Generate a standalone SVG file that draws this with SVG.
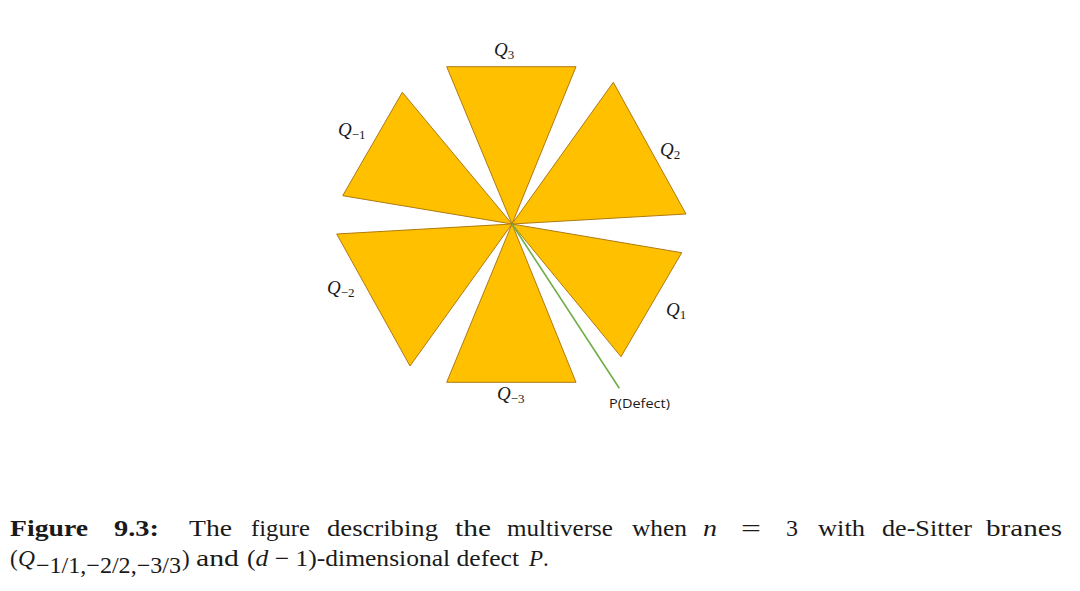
<svg xmlns="http://www.w3.org/2000/svg" width="1080" height="591" viewBox="0 0 1080 591">
<style>
.wedge{fill:#FFC000;stroke:#B07A10;stroke-width:1;stroke-linejoin:miter}
.ql{font-family:"Liberation Serif",serif;font-style:italic;font-size:19px;fill:#1a1a1a}
.sub{font-family:"Liberation Serif",serif;font-style:normal;font-size:13px}
.cap{font-family:"Liberation Serif",serif;font-size:23px;fill:#1a1a1a}
.b{font-weight:bold}
.i{font-style:italic}
</style>
<rect width="1080" height="591" fill="#fff"/>
<g id="wedges">
<g id="Q3"><polygon class="wedge" points="512,224 446.7,66.7 576,66.7"/></g>
<g id="Q-1"><polygon class="wedge" points="512,224 402.3,92.3 342.7,195.7"/></g>
<g id="Q2"><polygon class="wedge" points="512,224 613.3,82.3 686,214"/></g>
<g id="Q-2"><polygon class="wedge" points="512,224 336.7,234 410,366"/></g>
<g id="Q-3"><polygon class="wedge" points="512,224 446.7,382.3 576,382.3"/></g>
<g id="Q1"><polygon class="wedge" points="512,224 681.7,252.7 621,356.7"/></g>
</g>
<g id="connectors">
<line x1="512" y1="224" x2="619.3" y2="388.3" stroke="#70AD47" stroke-width="1.6"/>
</g>
<g id="labels">
<text class="ql" x="494" y="56">Q<tspan class="sub" dy="3">3</tspan></text>
<text class="ql" x="338" y="136">Q<tspan class="sub" dy="3">−1</tspan></text>
<text class="ql" x="660" y="156">Q<tspan class="sub" dy="3">2</tspan></text>
<text class="ql" x="327" y="294">Q<tspan class="sub" dy="3">−2</tspan></text>
<text class="ql" x="666" y="316">Q<tspan class="sub" dy="3">1</tspan></text>
<text class="ql" x="497" y="400">Q<tspan class="sub" dy="3">−3</tspan></text>
<text x="609" y="408" font-family="'Open Sans','Liberation Sans',sans-serif" font-size="13.5px" fill="#1a1a1a" textLength="61" lengthAdjust="spacingAndGlyphs">P(Defect)</text>
</g>
<g id="caption">
<text class="cap b" x="10" y="536" textLength="78" lengthAdjust="spacingAndGlyphs">Figure</text>
<text class="cap b" x="114" y="536" textLength="45" lengthAdjust="spacingAndGlyphs">9.3:</text>
<text class="cap" x="189" y="536" textLength="43" lengthAdjust="spacingAndGlyphs">The</text>
<text class="cap" x="251" y="536" textLength="59" lengthAdjust="spacingAndGlyphs">figure</text>
<text class="cap" x="327" y="536" textLength="111" lengthAdjust="spacingAndGlyphs">describing</text>
<text class="cap" x="455" y="536" textLength="36" lengthAdjust="spacingAndGlyphs">the</text>
<text class="cap" x="507" y="536" textLength="106" lengthAdjust="spacingAndGlyphs">multiverse</text>
<text class="cap" x="632" y="536" textLength="55" lengthAdjust="spacingAndGlyphs">when</text>
<text class="cap i" x="703" y="536" textLength="14" lengthAdjust="spacingAndGlyphs">n</text>
<text class="cap" x="741" y="536" textLength="20" lengthAdjust="spacingAndGlyphs">=</text>
<text class="cap" x="786" y="536" textLength="12" lengthAdjust="spacingAndGlyphs">3</text>
<text class="cap" x="818" y="536" textLength="47" lengthAdjust="spacingAndGlyphs">with</text>
<text class="cap" x="882" y="536" textLength="90" lengthAdjust="spacingAndGlyphs">de-Sitter</text>
<text class="cap" x="986" y="536" textLength="76" lengthAdjust="spacingAndGlyphs">branes</text>
<text class="cap" x="10" y="566">(</text>
<text class="cap i" x="18" y="566" textLength="17" lengthAdjust="spacingAndGlyphs">Q</text>
<text class="cap" x="36" y="573" font-size="16px" textLength="145" lengthAdjust="spacingAndGlyphs">−1/1,−2/2,−3/3</text>
<text class="cap" x="182" y="566">)</text>
<text class="cap" x="196" y="566" textLength="43" lengthAdjust="spacingAndGlyphs">and</text>
<text class="cap" x="247" y="566" textLength="272" lengthAdjust="spacingAndGlyphs">(<tspan class="i">d</tspan> − 1)-dimensional defect</text>
<text class="cap i" x="529" y="566">P<tspan font-style="normal">.</tspan></text>
</g>
</svg>
